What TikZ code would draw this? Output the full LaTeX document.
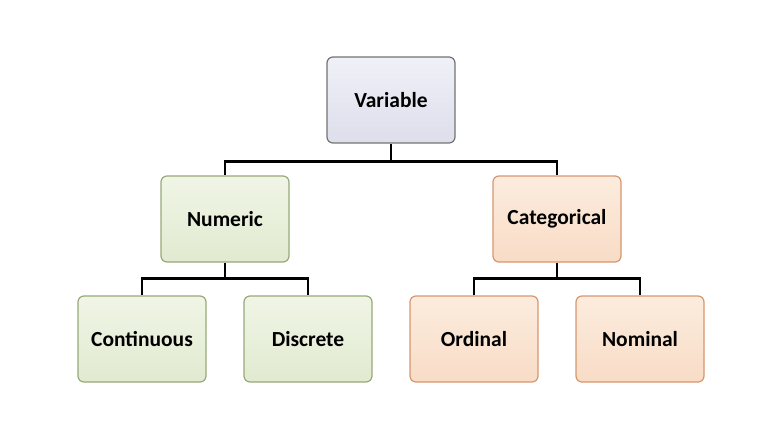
\documentclass[tikz,border=0pt]{standalone}
\usepackage{fontspec}
\setmainfont{Carlito}
\begin{document}
\begin{tikzpicture}[x=1pt,y=-1pt,
 box/.style={rounded corners=6pt,line width=1.2pt,minimum width=128pt,minimum height=86pt,font=\bfseries\fontsize{21.5}{24}\selectfont,inner sep=0pt},
 vbox/.style={box,draw=black!55,top color={rgb,255:red,240;green,240;blue,248},bottom color={rgb,255:red,222;green,222;blue,236}},
 gbox/.style={box,draw={rgb,255:red,150;green,170;blue,120},top color={rgb,255:red,240;green,245;blue,230},bottom color={rgb,255:red,225;green,234;blue,208}},
 obox/.style={box,draw={rgb,255:red,215;green,150;blue,110},top color={rgb,255:red,252;green,236;blue,222},bottom color={rgb,255:red,248;green,220;blue,198}},
 con/.style={line width=2.5pt,black}]
\useasboundingbox (0,0) rectangle (768,433);
\node[vbox] (var) at (391,100) {Variable};
\node[gbox] (num) at (225,219) {Numeric};
\node[obox] (cat) at (557,219) {Categorical};
\node[gbox] (cont) at (142,339) {Continuous};
\node[gbox] (disc) at (308,339) {Discrete};
\node[obox] (ord) at (474,339) {Ordinal};
\node[obox] (nom) at (640,339) {Nominal};
\draw[con] (var.south) -- ++(0,18) coordinate (v1);
\draw[con] (num.north) |- (v1) -| (cat.north);
\draw[con] (num.south) -- ++(0,16) coordinate (n1);
\draw[con] (cont.north) |- (n1) -| (disc.north);
\draw[con] (cat.south) -- ++(0,16) coordinate (c1);
\draw[con] (ord.north) |- (c1) -| (nom.north);
\end{tikzpicture}
\end{document}
